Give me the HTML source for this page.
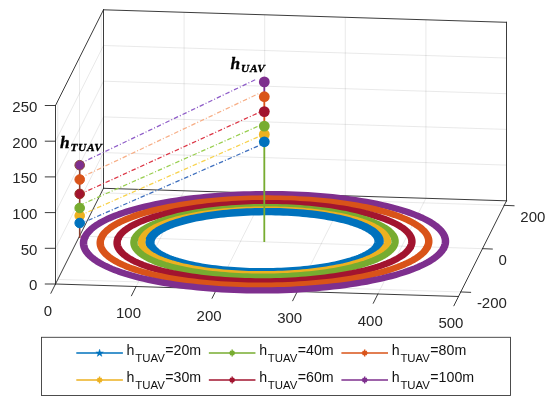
<!DOCTYPE html>
<html lang="en"><head><meta charset="utf-8"><title>UAV trajectories</title><style>
html,body{margin:0;padding:0;background:#fff;}
body{width:550px;height:399px;overflow:hidden;}
svg{display:block;}
.g{stroke:#262626;stroke-opacity:.13;stroke-width:.8;}
.b{stroke:#262626;stroke-width:.9;stroke-linecap:square;}
.dd{stroke-width:1.25;stroke-dasharray:4.5 2 1 2;fill:none;}
.ring{fill:none;stroke-linecap:butt;stroke-linejoin:round;}
.tl{font-family:"Liberation Sans",Arial,Helvetica,sans-serif;font-size:15px;fill:#262626;}
.ml{font-family:"Liberation Serif","Times New Roman",serif;font-weight:bold;font-style:italic;font-size:17.3px;fill:#000;stroke:#000;stroke-width:.35px;}
.ms{font-size:11.4px;letter-spacing:.65px;}
.lt{font-family:"Liberation Sans",Arial,Helvetica,sans-serif;font-size:14.2px;fill:#111;}
.ls{font-size:11.4px;}
</style></head><body>
<svg width="550" height="399" viewBox="0 0 550 399">
<rect width="550" height="399" fill="#fff"/>
<g id="grid"><line x1="136.1" y1="286.5" x2="184.1" y2="190.8" class="g"/><line x1="184.1" y1="190.8" x2="184.1" y2="12.3" class="g"/><line x1="216.7" y1="289" x2="264.7" y2="193.3" class="g"/><line x1="264.7" y1="193.3" x2="264.7" y2="14.8" class="g"/><line x1="297.3" y1="291.5" x2="345.3" y2="195.8" class="g"/><line x1="345.3" y1="195.8" x2="345.3" y2="17.3" class="g"/><line x1="377.9" y1="294" x2="425.9" y2="198.3" class="g"/><line x1="425.9" y1="198.3" x2="425.9" y2="19.8" class="g"/><line x1="57.78" y1="279.45" x2="460.78" y2="291.95" class="g"/><line x1="57.78" y1="279.45" x2="57.78" y2="100.95" class="g"/><line x1="79.5" y1="236.15" x2="482.5" y2="248.65" class="g"/><line x1="79.5" y1="236.15" x2="79.5" y2="57.65" class="g"/><line x1="101.22" y1="192.85" x2="504.22" y2="205.35" class="g"/><line x1="101.22" y1="192.85" x2="101.22" y2="14.35" class="g"/><line x1="55.5" y1="248.3" x2="103.5" y2="152.6" class="g"/><line x1="103.5" y1="152.6" x2="506.5" y2="165.1" class="g"/><line x1="55.5" y1="212.6" x2="103.5" y2="116.9" class="g"/><line x1="103.5" y1="116.9" x2="506.5" y2="129.4" class="g"/><line x1="55.5" y1="176.9" x2="103.5" y2="81.2" class="g"/><line x1="103.5" y1="81.2" x2="506.5" y2="93.7" class="g"/><line x1="55.5" y1="141.2" x2="103.5" y2="45.5" class="g"/><line x1="103.5" y1="45.5" x2="506.5" y2="58" class="g"/></g>
<g id="box"><line x1="55.5" y1="284" x2="458.5" y2="296.5" class="b"/><line x1="458.5" y1="296.5" x2="506.5" y2="200.8" class="b"/><line x1="506.5" y1="200.8" x2="103.5" y2="188.3" class="b"/><line x1="103.5" y1="188.3" x2="55.5" y2="284" class="b"/><line x1="55.5" y1="284" x2="55.5" y2="105.5" class="b"/><line x1="55.5" y1="105.5" x2="103.5" y2="9.8" class="b"/><line x1="103.5" y1="9.8" x2="103.5" y2="188.3" class="b"/><line x1="103.5" y1="9.8" x2="506.5" y2="22.3" class="b"/><line x1="506.5" y1="22.3" x2="506.5" y2="200.8" class="b"/><line x1="55.5" y1="284" x2="50.9" y2="293.2" class="b"/><line x1="136.1" y1="286.5" x2="131.5" y2="295.7" class="b"/><line x1="216.7" y1="289" x2="212.1" y2="298.2" class="b"/><line x1="297.3" y1="291.5" x2="292.7" y2="300.7" class="b"/><line x1="377.9" y1="294" x2="373.3" y2="303.2" class="b"/><line x1="458.5" y1="296.5" x2="453.9" y2="305.7" class="b"/><line x1="460.78" y1="291.95" x2="470.58" y2="292.35" class="b"/><line x1="482.5" y1="248.65" x2="492.3" y2="249.05" class="b"/><line x1="504.22" y1="205.35" x2="514.02" y2="205.75" class="b"/><line x1="55.5" y1="284" x2="45.3" y2="284" class="b"/><line x1="55.5" y1="248.3" x2="45.3" y2="248.3" class="b"/><line x1="55.5" y1="212.6" x2="45.3" y2="212.6" class="b"/><line x1="55.5" y1="176.9" x2="45.3" y2="176.9" class="b"/><line x1="55.5" y1="141.2" x2="45.3" y2="141.2" class="b"/><line x1="55.5" y1="105.5" x2="45.3" y2="105.5" class="b"/></g>
<g id="dashdot"><line x1="79.7" y1="224.1" x2="262" y2="144.27" stroke="#3E6FBE" class="dd"/><line x1="79.7" y1="215.6" x2="260" y2="136.05" stroke="#F7D24A" class="dd"/><line x1="79.7" y1="205.35" x2="260" y2="125.37" stroke="#98CE4E" class="dd"/><line x1="79.7" y1="194.35" x2="260" y2="112.06" stroke="#DC3545" class="dd"/><line x1="79.7" y1="178.1" x2="260" y2="92.93" stroke="#F7AE86" class="dd"/><line x1="79.7" y1="163.7" x2="257" y2="78.92" stroke="#8E5CC8" class="dd"/></g>
<g id="rings"><path transform="scale(1,0.84)" d="M443.07 296.74L444 294.72L444.72 292.68L445.2 290.65L445.45 288.61L445.48 286.57L445.28 284.53L444.84 282.49L444.18 280.47L443.3 278.45L442.18 276.45L440.84 274.46L439.28 272.49L437.5 270.54L435.5 268.61L433.28 266.71L430.85 264.83L428.2 262.99L425.35 261.18L422.3 259.4L419.05 257.66L415.6 255.95L411.96 254.29L408.13 252.67L404.13 251.1L399.94 249.57L395.59 248.09L391.06 246.67L386.38 245.29L381.55 243.97L376.56 242.71L371.44 241.5L366.18 240.36L360.79 239.27L355.27 238.25L349.65 237.29L343.91 236.4L338.08 235.57L332.15 234.81L326.14 234.11L320.05 233.49L313.88 232.93L307.66 232.44L301.38 232.03L295.05 231.68L288.69 231.41L282.3 231.21L275.88 231.08L269.45 231.03L263.01 231.05L256.57 231.14L250.15 231.3L243.74 231.53L237.36 231.84L231.01 232.22L224.7 232.67L218.45 233.19L212.25 233.78L206.12 234.43L200.07 235.16L194.09 235.96L188.21 236.82L182.42 237.74L176.73 238.73L171.16 239.78L165.7 240.9L160.37 242.07L155.17 243.31L150.11 244.6L145.19 245.94L140.43 247.34L135.82 248.79L131.37 250.29L127.1 251.84L122.99 253.44L119.07 255.08L115.33 256.76L111.78 258.48L108.42 260.24L105.26 262.04L102.3 263.87L99.55 265.73L97 267.62L94.67 269.53L92.55 271.47L90.65 273.43L88.97 275.41L87.51 277.41L86.27 279.41L85.27 281.44L84.48 283.47" stroke="#7E2F8E" stroke-width="7.5" class="ring"/><path transform="scale(1,0.84)" d="M426.58 295.78L427.43 293.95L428.07 292.12L428.51 290.27L428.74 288.43L428.76 286.58L428.57 284.74L428.18 282.9L427.57 281.06L426.77 279.24L425.75 277.43L424.53 275.63L423.11 273.85L421.49 272.08L419.67 270.34L417.66 268.62L415.45 266.92L413.05 265.25L410.46 263.61L407.69 262L404.73 260.42L401.6 258.88L398.29 257.38L394.82 255.91L391.18 254.49L387.38 253.11L383.43 251.77L379.32 250.48L375.07 249.24L370.68 248.04L366.15 246.9L361.5 245.81L356.72 244.77L351.83 243.79L346.82 242.86L341.72 241.99L336.51 241.18L331.21 240.43L325.83 239.74L320.37 239.11L314.84 238.55L309.25 238.04L303.6 237.6L297.9 237.23L292.16 236.91L286.38 236.67L280.58 236.49L274.75 236.37L268.92 236.32L263.07 236.33L257.23 236.41L251.4 236.56L245.58 236.77L239.79 237.05L234.03 237.39L228.31 237.8L222.63 238.26L217.01 238.8L211.45 239.39L205.95 240.05L200.53 240.77L195.19 241.55L189.94 242.38L184.78 243.28L179.72 244.23L174.77 245.24L169.93 246.3L165.21 247.41L160.62 248.58L156.16 249.8L151.84 251.06L147.66 252.37L143.62 253.73L139.74 255.13L136.02 256.58L132.46 258.06L129.07 259.58L125.85 261.14L122.8 262.73L119.94 264.35L117.25 266.01L114.76 267.69L112.45 269.4L110.33 271.13L108.41 272.89L106.69 274.66L105.17 276.45L103.85 278.25L102.73 280.07L101.81 281.9L101.11 283.74" stroke="#D95319" stroke-width="7.5" class="ring"/><path transform="scale(1,0.84)" d="M409.93 295.13L410.69 293.48L411.27 291.83L411.66 290.18L411.87 288.52L411.89 286.86L411.72 285.21L411.37 283.55L410.83 281.91L410.1 280.27L409.19 278.64L408.1 277.03L406.83 275.43L405.37 273.84L403.74 272.28L401.93 270.73L399.95 269.21L397.8 267.71L395.48 266.23L392.99 264.79L390.34 263.37L387.53 261.99L384.56 260.64L381.45 259.32L378.18 258.04L374.77 256.8L371.22 255.6L367.54 254.44L363.72 253.33L359.79 252.25L355.72 251.23L351.55 250.25L347.26 249.32L342.87 248.44L338.38 247.6L333.8 246.82L329.13 246.1L324.38 245.42L319.55 244.8L314.65 244.24L309.69 243.73L304.67 243.28L299.6 242.88L294.49 242.54L289.34 242.26L284.15 242.04L278.94 241.88L273.72 241.77L268.48 241.73L263.24 241.74L257.99 241.82L252.76 241.95L247.54 242.14L242.35 242.39L237.18 242.69L232.04 243.06L226.95 243.48L221.9 243.96L216.91 244.49L211.98 245.08L207.12 245.73L202.32 246.43L197.61 247.18L192.98 247.98L188.44 248.84L184 249.74L179.66 250.69L175.42 251.7L171.3 252.74L167.3 253.84L163.42 254.97L159.67 256.15L156.05 257.37L152.57 258.63L149.23 259.93L146.03 261.26L142.99 262.62L140.1 264.02L137.36 265.45L134.79 266.91L132.38 268.4L130.14 269.91L128.07 271.44L126.17 273L124.45 274.57L122.9 276.16L121.54 277.77L120.35 279.39L119.35 281.03L118.52 282.67L117.89 284.32" stroke="#A2142F" stroke-width="7.5" class="ring"/><path transform="scale(1,0.84)" d="M393.28 294L393.96 292.54L394.47 291.07L394.82 289.6L395.01 288.12L395.03 286.65L394.88 285.18L394.57 283.71L394.09 282.24L393.46 280.79L392.65 279.34L391.69 277.91L390.56 276.48L389.28 275.07L387.84 273.68L386.24 272.31L384.48 270.95L382.58 269.62L380.52 268.31L378.32 267.02L375.98 265.77L373.49 264.54L370.87 263.34L368.11 262.17L365.22 261.03L362.2 259.93L359.06 258.86L355.8 257.83L352.43 256.84L348.94 255.88L345.34 254.97L341.65 254.1L337.85 253.27L333.97 252.49L329.99 251.75L325.93 251.06L321.8 250.41L317.59 249.81L313.32 249.26L308.98 248.76L304.59 248.31L300.14 247.91L295.65 247.56L291.13 247.26L286.56 247.01L281.97 246.81L277.36 246.67L272.73 246.58L268.1 246.54L263.45 246.55L258.81 246.62L254.18 246.73L249.55 246.9L244.95 247.13L240.37 247.4L235.83 247.72L231.31 248.1L226.85 248.53L222.42 249L218.06 249.53L213.75 250.1L209.5 250.72L205.33 251.39L201.22 252.11L197.2 252.87L193.27 253.67L189.42 254.52L185.67 255.41L182.02 256.34L178.47 257.32L175.04 258.33L171.71 259.38L168.51 260.46L165.42 261.58L162.46 262.73L159.63 263.92L156.93 265.13L154.37 266.38L151.95 267.65L149.67 268.95L147.53 270.27L145.54 271.61L143.71 272.98L142.02 274.36L140.49 275.76L139.12 277.18L137.91 278.61L136.86 280.05L135.96 281.5L135.24 282.96L134.67 284.42" stroke="#77AC30" stroke-width="7.5" class="ring"/><path transform="scale(1,0.84)" d="M385.76 293.63L386.39 292.27L386.87 290.91L387.19 289.54L387.36 288.17L387.37 286.8L387.22 285.43L386.92 284.07L386.47 282.71L385.86 281.36L385.1 280.01L384.18 278.68L383.11 277.35L381.9 276.04L380.53 274.75L379.02 273.47L377.36 272.21L375.56 270.97L373.62 269.75L371.54 268.56L369.33 267.39L366.98 266.24L364.5 265.13L361.9 264.04L359.17 262.98L356.33 261.96L353.37 260.96L350.29 260L347.11 259.08L343.82 258.19L340.43 257.34L336.95 256.53L333.37 255.76L329.71 255.03L325.96 254.34L322.14 253.7L318.24 253.1L314.28 252.54L310.25 252.03L306.17 251.56L302.03 251.14L297.84 250.76L293.62 250.43L289.35 250.15L285.06 249.92L280.73 249.73L276.39 249.6L272.03 249.51L267.67 249.47L263.3 249.48L258.93 249.54L254.57 249.65L250.22 249.8L245.88 250.01L241.58 250.26L237.3 250.56L233.05 250.91L228.85 251.3L224.69 251.74L220.58 252.23L216.52 252.76L212.53 253.33L208.6 253.95L204.75 254.62L200.96 255.32L197.26 256.07L193.65 256.85L190.12 257.68L186.69 258.55L183.36 259.45L180.13 260.38L177 261.36L173.99 262.36L171.09 263.4L168.31 264.47L165.65 265.57L163.12 266.7L160.71 267.86L158.44 269.04L156.3 270.24L154.29 271.47L152.43 272.71L150.71 273.98L149.13 275.27L147.7 276.57L146.42 277.88L145.28 279.21L144.3 280.55L143.46 281.9L142.79 283.25L142.26 284.62" stroke="#EDB120" stroke-width="7.5" class="ring"/><path transform="scale(1,0.79)" d="M377.6 311.55L378.19 310.21L378.63 308.86L378.93 307.51L379.08 306.15L379.09 304.8L378.95 303.45L378.67 302.1L378.25 300.75L377.68 299.41L376.96 298.08L376.11 296.76L375.11 295.45L373.98 294.16L372.7 292.88L371.29 291.61L369.74 290.37L368.06 289.14L366.25 287.93L364.31 286.75L362.25 285.59L360.06 284.46L357.74 283.36L355.32 282.28L352.77 281.23L350.12 280.22L347.35 279.24L344.48 278.29L341.51 277.37L338.45 276.5L335.29 275.66L332.04 274.85L328.7 274.09L325.28 273.37L321.79 272.69L318.22 272.05L314.59 271.45L310.89 270.9L307.13 270.39L303.32 269.93L299.46 269.51L295.56 269.14L291.62 268.81L287.64 268.54L283.63 268.31L279.6 268.12L275.55 267.99L271.49 267.9L267.42 267.86L263.34 267.87L259.26 267.93L255.2 268.03L251.14 268.19L247.1 268.39L243.08 268.64L239.09 268.93L235.13 269.28L231.21 269.67L227.33 270.1L223.5 270.58L219.72 271.11L216 271.68L212.33 272.29L208.74 272.94L205.21 273.64L201.76 274.38L198.39 275.16L195.1 275.97L191.9 276.83L188.79 277.72L185.78 278.65L182.87 279.61L180.06 280.61L177.36 281.63L174.77 282.69L172.29 283.78L169.93 284.89L167.68 286.04L165.56 287.2L163.57 288.39L161.7 289.61L159.96 290.84L158.36 292.1L156.89 293.37L155.56 294.65L154.36 295.95L153.3 297.27L152.39 298.59L151.61 299.93L150.98 301.27L150.49 302.61" stroke="#0072BD" stroke-width="9.4" class="ring"/><path transform="scale(1,0.79)" d="M150.89 301.48L150.44 302.8L150.12 304.13L149.94 305.46L149.9 306.79L150 308.11L150.24 309.44L150.62 310.76L151.13 312.08L151.79 313.39L152.58 314.69L153.51 315.97L154.57 317.25L155.77 318.51L157.1 319.76L158.56 320.99L160.15 322.2L161.87 323.39L163.71 324.57L165.68 325.71L167.77 326.84L169.97 327.94L172.29 329.01L174.72 330.05L177.26 331.07L179.91 332.05L182.66 333L185.51 333.92L188.45 334.81L191.49 335.66L194.62 336.47L197.83 337.25L201.12 337.99L204.5 338.69L207.94 339.35L211.45 339.97L215.03 340.54L218.67 341.08L222.36 341.57L226.11 342.02L229.9 342.43L233.73 342.79L237.6 343.1L241.51 343.37L245.44 343.6L249.4 343.78L253.37 343.91L257.36 344L261.35 344.04L265.35 344.03L269.35 343.98L273.35 343.88L277.33 343.73L281.3 343.54L285.24 343.31L289.16 343.02L293.05 342.7L296.91 342.32L300.73 341.91L304.5 341.45L308.22 340.94L311.89 340.4L315.51 339.81L319.06 339.18L322.54 338.51L325.95 337.8L329.29 337.05L332.55 336.27L335.73 335.44L338.82 334.58L341.82 333.69L344.72 332.76L347.53 331.8L350.24 330.81L352.84 329.79L355.33 328.74L357.72 327.66L359.99 326.55L362.14 325.42L364.18 324.27L366.09 323.09L367.88 321.89L369.54 320.67L371.08 319.44L372.48 318.19L373.76 316.92L374.9 315.64L375.9 314.35L376.77 313.05L377.51 311.74L378.11 310.42" stroke="#0072BD" stroke-width="9.4" class="ring"/><path transform="scale(1,0.84)" d="M142.69 283.47L142.2 284.8L141.86 286.15L141.66 287.49L141.62 288.83L141.73 290.18L141.98 291.52L142.38 292.85L142.94 294.18L143.64 295.51L144.49 296.82L145.48 298.12L146.62 299.41L147.9 300.69L149.33 301.95L150.9 303.19L152.6 304.42L154.44 305.62L156.41 306.81L158.52 307.97L160.76 309.1L163.12 310.21L165.6 311.3L168.21 312.35L170.93 313.38L173.77 314.37L176.72 315.34L179.77 316.26L182.93 317.16L186.18 318.02L189.54 318.84L192.98 319.62L196.51 320.37L200.13 321.08L203.82 321.74L207.58 322.37L211.42 322.95L215.32 323.49L219.28 323.99L223.3 324.44L227.36 324.85L231.47 325.22L235.62 325.54L239.81 325.81L244.02 326.04L248.27 326.22L252.53 326.35L256.8 326.44L261.09 326.48L265.38 326.47L269.66 326.42L273.94 326.32L278.22 326.17L282.47 325.98L286.7 325.74L290.9 325.45L295.08 325.12L299.21 324.75L303.3 324.32L307.35 323.86L311.34 323.35L315.28 322.8L319.15 322.2L322.96 321.56L326.7 320.89L330.36 320.17L333.94 319.41L337.44 318.62L340.84 317.78L344.16 316.92L347.37 316.01L350.49 315.07L353.5 314.1L356.4 313.1L359.19 312.06L361.87 311L364.43 309.91L366.86 308.79L369.17 307.65L371.35 306.48L373.41 305.29L375.33 304.08L377.11 302.85L378.76 301.6L380.27 300.34L381.64 299.06L382.86 297.76L383.94 296.46L384.88 295.14L385.67 293.82L386.31 292.49" stroke="#EDB120" stroke-width="7.5" class="ring"/><path transform="scale(1,0.84)" d="M135.14 283.19L134.61 284.63L134.23 286.07L134.02 287.52L133.96 288.96L134.07 290.41L134.33 291.85L134.75 293.29L135.33 294.72L136.07 296.14L136.96 297.55L138.01 298.96L139.21 300.34L140.57 301.72L142.07 303.07L143.73 304.41L145.53 305.73L147.48 307.02L149.57 308.3L151.8 309.54L154.17 310.77L156.67 311.96L159.3 313.12L162.07 314.26L164.95 315.36L167.96 316.43L171.09 317.46L174.32 318.46L177.67 319.42L181.13 320.35L184.68 321.23L188.34 322.07L192.08 322.87L195.92 323.63L199.84 324.35L203.83 325.02L207.91 325.64L212.05 326.22L216.25 326.76L220.51 327.24L224.83 327.68L229.19 328.07L233.6 328.41L238.04 328.7L242.52 328.95L247.03 329.14L251.55 329.28L256.09 329.37L260.64 329.41L265.2 329.4L269.75 329.34L274.3 329.23L278.84 329.07L283.36 328.86L287.86 328.6L292.32 328.29L296.76 327.93L301.15 327.53L305.5 327.07L309.8 326.57L314.05 326.02L318.23 325.42L322.35 324.78L326.4 324.09L330.37 323.36L334.27 322.59L338.08 321.77L341.79 320.91L345.42 320.01L348.94 319.08L352.37 318.1L355.68 317.09L358.89 316.04L361.98 314.96L364.95 313.85L367.79 312.7L370.52 311.53L373.11 310.32L375.57 309.09L377.9 307.84L380.09 306.55L382.13 305.25L384.04 303.93L385.79 302.58L387.4 301.22L388.86 299.84L390.17 298.45L391.33 297.04L392.33 295.62L393.17 294.2L393.86 292.76" stroke="#77AC30" stroke-width="7.5" class="ring"/><path transform="scale(1,0.84)" d="M118.41 282.93L117.82 284.54L117.4 286.17L117.16 287.79L117.1 289.42L117.22 291.05L117.52 292.67L118 294.29L118.66 295.89L119.49 297.5L120.5 299.08L121.69 300.66L123.05 302.22L124.58 303.77L126.29 305.29L128.16 306.8L130.2 308.28L132.4 309.74L134.76 311.17L137.28 312.57L139.96 313.95L142.79 315.29L145.76 316.6L148.88 317.88L152.14 319.12L155.54 320.32L159.07 321.48L162.73 322.61L166.52 323.69L170.42 324.72L174.44 325.72L178.56 326.67L182.8 327.57L187.13 328.42L191.55 329.23L196.07 329.98L200.67 330.69L205.34 331.34L210.09 331.94L214.9 332.49L219.78 332.98L224.71 333.42L229.69 333.81L234.71 334.13L239.76 334.41L244.85 334.62L249.96 334.79L255.09 334.89L260.23 334.94L265.37 334.93L270.51 334.86L275.65 334.74L280.77 334.56L285.88 334.32L290.95 334.03L296 333.68L301 333.28L305.97 332.82L310.88 332.31L315.73 331.74L320.52 331.13L325.25 330.46L329.9 329.73L334.47 328.96L338.95 328.14L343.35 327.27L347.65 326.35L351.84 325.39L355.93 324.38L359.91 323.33L363.78 322.23L367.52 321.09L371.14 319.92L374.62 318.7L377.97 317.45L381.19 316.16L384.26 314.84L387.19 313.49L389.96 312.1L392.59 310.69L395.06 309.25L397.36 307.78L399.51 306.29L401.49 304.78L403.31 303.25L404.95 301.7L406.43 300.13L407.73 298.55L408.86 296.96L409.81 295.35L410.59 293.74" stroke="#A2142F" stroke-width="7.5" class="ring"/><path transform="scale(1,0.84)" d="M101.69 282.19L101.03 283.99L100.56 285.8L100.29 287.61L100.23 289.42L100.36 291.23L100.7 293.04L101.23 294.84L101.97 296.63L102.9 298.41L104.02 300.18L105.35 301.94L106.86 303.67L108.57 305.39L110.47 307.09L112.56 308.77L114.83 310.42L117.29 312.04L119.92 313.64L122.73 315.2L125.71 316.73L128.87 318.23L132.18 319.69L135.66 321.11L139.3 322.49L143.08 323.83L147.02 325.12L151.1 326.37L155.32 327.58L159.67 328.74L164.14 329.84L168.74 330.9L173.46 331.9L178.29 332.85L183.22 333.75L188.25 334.59L193.38 335.38L198.59 336.1L203.88 336.77L209.24 337.38L214.68 337.93L220.17 338.42L225.72 338.85L231.31 339.22L236.95 339.52L242.62 339.76L248.31 339.94L254.03 340.06L259.75 340.11L265.49 340.1L271.22 340.03L276.94 339.89L282.65 339.69L288.34 339.43L294 339.1L299.62 338.71L305.2 338.27L310.73 337.76L316.2 337.19L321.61 336.56L326.95 335.87L332.22 335.12L337.4 334.32L342.49 333.46L347.49 332.54L352.39 331.58L357.18 330.55L361.86 329.48L366.41 328.36L370.85 327.19L375.15 325.97L379.32 324.7L383.35 323.39L387.24 322.04L390.97 320.64L394.56 319.21L397.98 317.74L401.24 316.23L404.33 314.69L407.26 313.11L410.01 311.51L412.58 309.88L414.97 308.22L417.18 306.53L419.2 304.83L421.04 303.1L422.68 301.36L424.13 299.6L425.39 297.82L426.45 296.04L427.31 294.24" stroke="#D95319" stroke-width="7.5" class="ring"/><path transform="scale(1,0.84)" d="M85.13 281.75L84.39 283.75L83.88 285.74L83.58 287.75L83.51 289.75L83.65 291.75L84.02 293.75L84.6 295.74L85.41 297.72L86.43 299.69L87.67 301.64L89.13 303.58L90.8 305.5L92.68 307.4L94.77 309.28L97.06 311.13L99.56 312.96L102.27 314.75L105.17 316.51L108.26 318.24L111.54 319.93L115.01 321.59L118.67 323.2L122.5 324.77L126.5 326.3L130.67 327.78L135.01 329.21L139.5 330.59L144.14 331.92L148.93 333.2L153.86 334.42L158.93 335.59L164.13 336.7L169.44 337.75L174.88 338.74L180.42 339.67L186.06 340.53L191.81 341.34L197.63 342.08L203.54 342.75L209.53 343.36L215.58 343.9L221.69 344.37L227.86 344.77L234.06 345.11L240.31 345.37L246.58 345.57L252.88 345.7L259.19 345.76L265.51 345.74L271.82 345.66L278.13 345.51L284.42 345.29L290.69 345L296.92 344.64L303.12 344.21L309.27 343.71L315.36 343.15L321.39 342.52L327.35 341.82L333.24 341.06L339.04 340.23L344.75 339.35L350.36 338.39L355.87 337.38L361.27 336.31L366.55 335.18L371.7 333.99L376.73 332.75L381.61 331.46L386.36 330.11L390.95 328.71L395.4 327.26L399.68 325.76L403.8 324.22L407.75 322.63L411.52 321.01L415.11 319.34L418.53 317.64L421.75 315.89L424.78 314.12L427.62 312.32L430.26 310.48L432.69 308.62L434.92 306.73L436.95 304.83L438.76 302.9L440.36 300.95L441.75 298.99L442.92 297.02L443.87 295.03" stroke="#7E2F8E" stroke-width="7.5" class="ring"/></g>
<g id="stems"><line x1="79.7" y1="165.2" x2="79.7" y2="238" stroke="#8A4030" stroke-width="1.6"/><line x1="264.3" y1="81.9" x2="264.3" y2="96.7" stroke="#7E2F8E" stroke-width="1.8"/><line x1="264.3" y1="96.7" x2="264.3" y2="126.1" stroke="#D95319" stroke-width="1.8"/><line x1="264.3" y1="126.1" x2="264.3" y2="242" stroke="#77AC30" stroke-width="1.8"/></g>
<g id="dots"><circle cx="79.7" cy="215.7" r="4.8" fill="#EDB120" stroke="#EDB120" stroke-width="1"/><circle cx="79.7" cy="223" r="4.8" fill="#0072BD" stroke="#0072BD" stroke-width="1"/><circle cx="79.7" cy="208" r="4.8" fill="#77AC30" stroke="#77AC30" stroke-width="1"/><circle cx="79.7" cy="193.9" r="4.8" fill="#A2142F" stroke="#9A3320" stroke-width="1"/><circle cx="79.7" cy="179.5" r="4.8" fill="#D95319" stroke="#D95319" stroke-width="1"/><circle cx="79.7" cy="165.2" r="4.8" fill="#7E2F8E" stroke="#8B4A3A" stroke-width="1"/><circle cx="264.3" cy="134.4" r="5.4" fill="#EDB120"/><circle cx="264.3" cy="141.8" r="5.4" fill="#0072BD"/><circle cx="264.3" cy="126.1" r="5.4" fill="#77AC30"/><circle cx="264.3" cy="111.6" r="5.4" fill="#A2142F"/><circle cx="264.3" cy="96.7" r="5.4" fill="#D95319"/><circle cx="264.3" cy="81.9" r="5.4" fill="#7E2F8E"/></g>
<g id="ticklabels"><text x="47.9" y="315.7" text-anchor="middle" class="tl">0</text><text x="128.5" y="318.2" text-anchor="middle" class="tl">100</text><text x="209.1" y="320.7" text-anchor="middle" class="tl">200</text><text x="289.7" y="323.2" text-anchor="middle" class="tl">300</text><text x="370.3" y="325.7" text-anchor="middle" class="tl">400</text><text x="450.9" y="328.2" text-anchor="middle" class="tl">500</text><text x="476.88" y="308.15" class="tl">-200</text><text x="498.6" y="264.85" class="tl">0</text><text x="520.32" y="221.55" class="tl">200</text><text x="37.4" y="290.3" text-anchor="end" class="tl">0</text><text x="37.4" y="254.6" text-anchor="end" class="tl">50</text><text x="37.4" y="218.9" text-anchor="end" class="tl">100</text><text x="37.4" y="183.2" text-anchor="end" class="tl">150</text><text x="37.4" y="147.5" text-anchor="end" class="tl">200</text><text x="37.4" y="111.8" text-anchor="end" class="tl">250</text></g>
<text x="230.6" y="68.9" class="ml">h<tspan class="ms" dx="0.8" dy="3.3">UAV</tspan></text>
<text x="60" y="147.9" class="ml">h<tspan class="ms" dx="0.8" dy="3.3">TUAV</tspan></text>
<g id="legend"><rect x="41.5" y="337.3" width="469" height="58.2" fill="#fff" stroke="#3a3a3a" stroke-width="0.9"/><line x1="76.3" y1="353" x2="122.9" y2="353" stroke="#0072BD" stroke-width="1.3"/><polygon points="99.6,349.3 100.48,351.99 103.31,351.99 101.03,353.66 101.89,356.36 99.6,354.7 97.31,356.36 98.17,353.66 95.89,351.99 98.72,351.99" fill="#0072BD" stroke="#0072BD" stroke-width="0.5"/><text x="126.6" y="354.9" class="lt">h<tspan class="ls" dx="0.8" dy="6.8">TUAV</tspan><tspan dx="0.4" dy="-6.8">=20m</tspan></text><line x1="76.3" y1="380" x2="122.9" y2="380" stroke="#EDB120" stroke-width="1.3"/><path d="M96.7 380L102.5 380M97.55 377.95L101.65 382.05M99.6 376.4L99.6 383.6M101.65 377.95L97.55 382.05" stroke="#EDB120" stroke-width="1.45" fill="none"/><text x="126.6" y="381.9" class="lt">h<tspan class="ls" dx="0.8" dy="6.8">TUAV</tspan><tspan dx="0.4" dy="-6.8">=30m</tspan></text><line x1="208.85" y1="353" x2="255.45" y2="353" stroke="#77AC30" stroke-width="1.3"/><path d="M229.25 353L235.05 353M230.1 350.95L234.2 355.05M232.15 349.4L232.15 356.6M234.2 350.95L230.1 355.05" stroke="#77AC30" stroke-width="1.45" fill="none"/><text x="259.15" y="354.9" class="lt">h<tspan class="ls" dx="0.8" dy="6.8">TUAV</tspan><tspan dx="0.4" dy="-6.8">=40m</tspan></text><line x1="208.85" y1="380" x2="255.45" y2="380" stroke="#A2142F" stroke-width="1.3"/><path d="M229.25 380L235.05 380M230.1 377.95L234.2 382.05M232.15 376.4L232.15 383.6M234.2 377.95L230.1 382.05" stroke="#A2142F" stroke-width="1.45" fill="none"/><text x="259.15" y="381.9" class="lt">h<tspan class="ls" dx="0.8" dy="6.8">TUAV</tspan><tspan dx="0.4" dy="-6.8">=60m</tspan></text><line x1="341.4" y1="353" x2="388" y2="353" stroke="#D95319" stroke-width="1.3"/><path d="M361.8 353L367.6 353M362.65 350.95L366.75 355.05M364.7 349.4L364.7 356.6M366.75 350.95L362.65 355.05" stroke="#D95319" stroke-width="1.45" fill="none"/><text x="391.7" y="354.9" class="lt">h<tspan class="ls" dx="0.8" dy="6.8">TUAV</tspan><tspan dx="0.4" dy="-6.8">=80m</tspan></text><line x1="341.4" y1="380" x2="388" y2="380" stroke="#7E2F8E" stroke-width="1.3"/><path d="M361.8 380L367.6 380M362.65 377.95L366.75 382.05M364.7 376.4L364.7 383.6M366.75 377.95L362.65 382.05" stroke="#7E2F8E" stroke-width="1.45" fill="none"/><text x="391.7" y="381.9" class="lt">h<tspan class="ls" dx="0.8" dy="6.8">TUAV</tspan><tspan dx="0.4" dy="-6.8">=100m</tspan></text></g>
</svg>
</body></html>
